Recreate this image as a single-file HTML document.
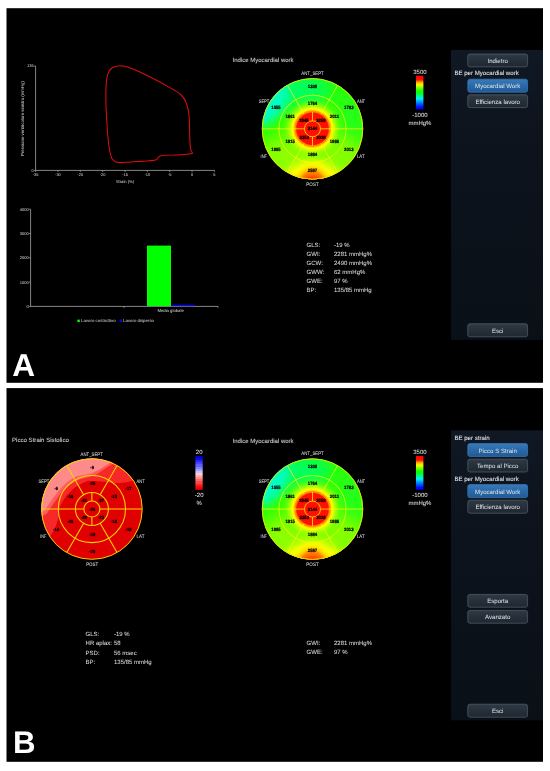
<!DOCTYPE html>
<html lang="it"><head><meta charset="utf-8"><title>Myocardial work</title>
<style>html,body{margin:0;padding:0;background:#fff}body{width:550px;height:771px;overflow:hidden}svg{display:block}text{font-family:"Liberation Sans", sans-serif;text-rendering:geometricPrecision}</style>
</head><body>
<svg width="550" height="771" viewBox="0 0 550 771">
<defs>
<linearGradient id="btn" x1="0" y1="0" x2="0" y2="1"><stop offset="0" stop-color="#2f3a46"/><stop offset="0.5" stop-color="#26303a"/><stop offset="1" stop-color="#1f2831"/></linearGradient>
<linearGradient id="btnb" x1="0" y1="0" x2="0" y2="1"><stop offset="0" stop-color="#3a7ab9"/><stop offset="0.5" stop-color="#2a69a9"/><stop offset="1" stop-color="#205a94"/></linearGradient>
<linearGradient id="rainbow" x1="0" y1="0" x2="0" y2="1"><stop offset="0" stop-color="#ff0000"/><stop offset="0.12" stop-color="#ff1000"/><stop offset="0.2" stop-color="#ffb000"/><stop offset="0.27" stop-color="#f0ff00"/><stop offset="0.45" stop-color="#10ff00"/><stop offset="0.55" stop-color="#00ff40"/><stop offset="0.68" stop-color="#00f0ff"/><stop offset="0.8" stop-color="#0080ff"/><stop offset="0.93" stop-color="#0010ff"/><stop offset="1" stop-color="#0000e0"/></linearGradient>
<radialGradient id="core" cx="0" cy="0" r="34" gradientUnits="userSpaceOnUse"><stop offset="0" stop-color="#ff1000"/><stop offset="0.458" stop-color="#ff1000"/><stop offset="0.495" stop-color="#ff4800"/><stop offset="0.525" stop-color="#ff9800"/><stop offset="0.56" stop-color="#ffec00"/><stop offset="0.6" stop-color="#f6ff00"/><stop offset="0.68" stop-color="#c0ff00" stop-opacity="0.78"/><stop offset="0.81" stop-color="#80ff00" stop-opacity="0.36"/><stop offset="1" stop-color="#50ff00" stop-opacity="0"/></radialGradient>
<filter id="b3" x="-50%" y="-50%" width="200%" height="200%"><feGaussianBlur stdDeviation="3"/></filter>
<filter id="b5" x="-50%" y="-50%" width="200%" height="200%"><feGaussianBlur stdDeviation="5"/></filter>
<filter id="b8" x="-50%" y="-50%" width="200%" height="200%"><feGaussianBlur stdDeviation="8"/></filter>
<filter id="b2" x="-50%" y="-50%" width="200%" height="200%"><feGaussianBlur stdDeviation="2"/></filter>
<filter id="b1" x="-50%" y="-50%" width="200%" height="200%"><feGaussianBlur stdDeviation="1.2"/></filter>
<linearGradient id="side" x1="0" y1="0" x2="0" y2="1"><stop offset="0" stop-color="#101824"/><stop offset="0.35" stop-color="#0c131c"/><stop offset="1" stop-color="#0a1018"/></linearGradient>
<clipPath id="disc"><circle cx="0" cy="0" r="50.6"/></clipPath>
</defs>
<rect width="550" height="771" fill="#ffffff"/>
<rect x="6.5" y="8.2" width="536.5" height="374.6" fill="#000"/>
<rect x="6.5" y="388.1" width="536.5" height="373.7" fill="#000"/>
<!-- Panel A -->
<g stroke="#cccccc" stroke-width="0.65" fill="none"><path d="M35.6 66V170.4H214.4"/>
<path d="M34.2 66H35.6M34.2 170.4H35.6"/>
<path d="M35.60 170.4V171.8"/>
<path d="M57.95 170.4V171.8"/>
<path d="M80.30 170.4V171.8"/>
<path d="M102.65 170.4V171.8"/>
<path d="M125.00 170.4V171.8"/>
<path d="M147.35 170.4V171.8"/>
<path d="M169.70 170.4V171.8"/>
<path d="M192.05 170.4V171.8"/>
<path d="M214.40 170.4V171.8"/>
</g>
<g font-size="4" fill="#dcdcdc" text-anchor="middle">
<text x="35.60" y="175.9">-35</text>
<text x="57.95" y="175.9">-30</text>
<text x="80.30" y="175.9">-25</text>
<text x="102.65" y="175.9">-20</text>
<text x="125.00" y="175.9">-15</text>
<text x="147.35" y="175.9">-10</text>
<text x="169.70" y="175.9">-5</text>
<text x="192.05" y="175.9">0</text>
<text x="214.40" y="175.9">5</text>
<text x="125" y="182.5" font-size="4.1">Strain (%)</text>
</g>
<text x="33.8" y="67.4" font-size="4" fill="#dcdcdc" text-anchor="end">135</text>
<text x="33.8" y="171.8" font-size="4" fill="#dcdcdc" text-anchor="end">0</text>
<text transform="translate(24 118.5) rotate(-90)" font-size="4.3" fill="#dcdcdc" text-anchor="middle" textLength="75" lengthAdjust="spacingAndGlyphs">Pressione ventricolare sinistra (mmHg)</text>
<path id="pvloop" d="M118.6 65.9C122 65.6 128 66.6 137.6 71.1C146 74.8 162 83.2 170.7 88.1C176 91 178.5 92.5 180.1 94C183.5 97 185 99.5 186 102.3C187.8 107 188.5 110 188.9 114.1C189.5 120 189.5 125 189.6 130.7C189.8 138 189.9 143 190.3 147.2C190.6 150.5 191.8 151.8 192.6 153.2C191 153.8 189 154 187.2 154.2C182 154.7 178 154.8 173 155C169 155 165.5 155 162.4 155.5C160.5 155.8 159.2 156.2 158.4 157.1C157.6 158 157.8 159 156.9 159.5C155 160.4 152 160.5 149.4 160.7C143 161.2 137 161.5 130.5 161.9C126 162.2 122 162.8 118.6 162.6C116.5 162.5 115 162 113.9 160.9C112.5 159.6 111.6 158.5 111.1 156.7C110 153 109.2 149 108.7 144.8C107.8 137 107.2 129 106.8 121.2C106.4 115 106 108.5 105.9 102.3C105.8 98 105.8 94.5 105.9 90.5C106 86.5 106.2 82 106.8 78.6C107.3 75.6 108 73 109.2 71.1C110.2 69.5 111.2 68.4 112.7 67.5C114.5 66.5 116.5 66 118.6 65.9Z" fill="none" stroke="#de0c0c" stroke-width="1.05"/>
<g stroke="#cccccc" stroke-width="0.65" fill="none"><path d="M30.6 209.2V306.4H218"/>
<path d="M29.2 306.40H30.6"/>
<path d="M29.2 282.10H30.6"/>
<path d="M29.2 257.80H30.6"/>
<path d="M29.2 233.50H30.6"/>
<path d="M29.2 209.20H30.6"/>
<path d="M124 306.4V307.8M218 306.4V307.8"/></g>
<g font-size="4.1" fill="#dcdcdc" text-anchor="end">
<text x="28.8" y="307.85">0</text>
<text x="28.8" y="283.55">1000</text>
<text x="28.8" y="259.25">2000</text>
<text x="28.8" y="234.95">3000</text>
<text x="28.8" y="210.65">4000</text>
</g>
<rect x="147" y="245.6" width="24" height="60.5" fill="#00ff00"/>
<rect x="171" y="304.8" width="23.6" height="1.4" fill="#0000ff"/>
<text x="170.6" y="312.1" font-size="4.3" fill="#dcdcdc" text-anchor="middle" textLength="26.4" lengthAdjust="spacingAndGlyphs">Media globale</text>
<rect x="77.4" y="319.6" width="2.4" height="2.4" fill="#00ff00"/>
<text x="81" y="322.3" font-size="4.3" fill="#dcdcdc" textLength="34.6" lengthAdjust="spacingAndGlyphs">Lavoro costruttivo</text>
<rect x="119.6" y="319.6" width="2.4" height="2.4" fill="#0000ff"/>
<text x="123" y="322.3" font-size="4.3" fill="#dcdcdc" textLength="31" lengthAdjust="spacingAndGlyphs">Lavoro disperso</text>
<text x="232.6" y="62.16" font-size="6" fill="#d2d2d2" stroke="#d2d2d2" stroke-width="0.07" text-anchor="start">Indice Myocardial work</text>
<g transform="translate(312.5 128.8)"><g clip-path="url(#disc)"><circle r="51" fill="#2cff00"/><ellipse cx="-16" cy="-38" rx="36" ry="16" fill="#00ff60" filter="url(#b8)"/><ellipse cx="-42" cy="-26" rx="14" ry="26" fill="#00ffc4" filter="url(#b5)" transform="rotate(34 -42 -26)"/><ellipse cx="38" cy="-10" rx="14" ry="30" fill="#20ff20" filter="url(#b8)" opacity="0.8"/><ellipse cx="-24" cy="28" rx="30" ry="22" fill="#8cff00" filter="url(#b8)"/><ellipse cx="26" cy="28" rx="28" ry="22" fill="#84ff00" filter="url(#b8)"/><path d="M0 27 C19.6 27 33.6 50 56 60H-56C-33.6 50 -19.6 27 0 27Z" fill="#c4ff00" filter="url(#b3)"/><path d="M0 33 C16.1 33 27.6 50 46 60H-46C-27.6 50 -16.1 33 0 33Z" fill="#fdff00" filter="url(#b2)"/><path d="M0 38 C9.8 38 16.8 50 28 60H-28C-16.8 50 -9.8 38 0 38Z" fill="#ffc400" filter="url(#b2)"/><path d="M0 41 C7.35 41 12.6 50 21 60H-21C-12.6 50 -7.35 41 0 41Z" fill="#ff8400" filter="url(#b1)"/><ellipse cx="0" cy="53" rx="10" ry="5.5" fill="#ff2000" filter="url(#b2)"/><circle r="34" fill="url(#core)"/></g><g fill="none" stroke="#fbff00" stroke-width="0.75"><circle cx="0" cy="0" r="33.6"/><circle cx="0" cy="0" r="17" stroke-opacity="0.45"/><circle cx="0" cy="0" r="8"/><path d="M-50 0H-8M8 0H50"/><path d="M0 -17V-8M0 8V17"/><path d="M8.50 -14.72L25.00 -43.30"/><path d="M-8.50 -14.72L-25.00 -43.30"/><path d="M-8.50 14.72L-25.00 43.30"/><path d="M8.50 14.72L25.00 43.30"/></g><circle cx="0" cy="0" r="50.3" fill="none" stroke="#f4dc00" stroke-width="0.9"/><g font-size="4.7" font-weight="bold" fill="#000" stroke="#000" stroke-width="0.22" text-anchor="middle"><text transform="translate(0 -40.608) scale(0.9 1)">1338</text><text transform="translate(0 -24.008) scale(0.9 1)">1764</text><text transform="translate(-36.5 -19.708) scale(0.9 1)">1055</text><text transform="translate(36.3 -19.708) scale(0.9 1)">1783</text><text transform="translate(-22.3 -11.208) scale(0.9 1)">1861</text><text transform="translate(21.9 -11.208) scale(0.9 1)">2011</text><text transform="translate(-8.6 -7.208) scale(0.9 1)">2945</text><text transform="translate(8.4 -7.208) scale(0.9 1)">3259</text><text transform="translate(0 1.492) scale(0.9 1)">3144</text><text transform="translate(-8.2 9.992) scale(0.9 1)">3353</text><text transform="translate(8.4 9.992) scale(0.9 1)">3028</text><text transform="translate(-22.3 14.092) scale(0.9 1)">1915</text><text transform="translate(21.9 14.092) scale(0.9 1)">1986</text><text transform="translate(-36.5 22.292) scale(0.9 1)">1995</text><text transform="translate(36.3 22.292) scale(0.9 1)">2013</text><text transform="translate(0 26.792) scale(0.9 1)">1884</text><text transform="translate(0 43.092) scale(0.9 1)">2597</text></g><text x="0" y="-53.8" font-size="5" fill="#e6e6e6" text-anchor="middle" textLength="22.4" lengthAdjust="spacingAndGlyphs">ANT_SEPT</text><text x="-43.2" y="-26" font-size="5" fill="#e6e6e6" text-anchor="end" textLength="10.6" lengthAdjust="spacingAndGlyphs">SEPT</text><text x="44.4" y="-26" font-size="5" fill="#e6e6e6" text-anchor="start" textLength="8.2" lengthAdjust="spacingAndGlyphs">ANT</text><text x="-45.5" y="29.4" font-size="5" fill="#e6e6e6" text-anchor="end" textLength="6.4" lengthAdjust="spacingAndGlyphs">INF</text><text x="44.4" y="29.4" font-size="5" fill="#e6e6e6" text-anchor="start" textLength="7.8" lengthAdjust="spacingAndGlyphs">LAT</text><text x="0" y="56.8" font-size="5" fill="#e6e6e6" text-anchor="middle" textLength="12.3" lengthAdjust="spacingAndGlyphs">POST</text></g>
<rect x="416" y="75.7" width="7.4" height="33.8" fill="url(#rainbow)"/><text x="419.9" y="73.86" font-size="6" fill="#d8d8d8" stroke="#d8d8d8" stroke-width="0.07" text-anchor="middle">3500</text><text x="419.9" y="116.56" font-size="6" fill="#d8d8d8" stroke="#d8d8d8" stroke-width="0.07" text-anchor="middle">-1000</text><text x="419.9" y="124.76" font-size="6" fill="#d8d8d8" stroke="#d8d8d8" stroke-width="0.07" text-anchor="middle">mmHg%</text>
<text x="306.6" y="246.56" font-size="6" fill="#d2d2d2" stroke="#d2d2d2" stroke-width="0.07" text-anchor="start">GLS:</text>
<text x="334" y="246.56" font-size="6" fill="#d2d2d2" stroke="#d2d2d2" stroke-width="0.07" text-anchor="start">-19 %</text>
<text x="306.6" y="255.68" font-size="6" fill="#d2d2d2" stroke="#d2d2d2" stroke-width="0.07" text-anchor="start">GWI:</text>
<text x="334" y="255.68" font-size="6" fill="#d2d2d2" stroke="#d2d2d2" stroke-width="0.07" text-anchor="start">2281 mmHg%</text>
<text x="306.6" y="264.8" font-size="6" fill="#d2d2d2" stroke="#d2d2d2" stroke-width="0.07" text-anchor="start">GCW:</text>
<text x="334" y="264.8" font-size="6" fill="#d2d2d2" stroke="#d2d2d2" stroke-width="0.07" text-anchor="start">2490 mmHg%</text>
<text x="306.6" y="273.92" font-size="6" fill="#d2d2d2" stroke="#d2d2d2" stroke-width="0.07" text-anchor="start">GWW:</text>
<text x="334" y="273.92" font-size="6" fill="#d2d2d2" stroke="#d2d2d2" stroke-width="0.07" text-anchor="start">62 mmHg%</text>
<text x="306.6" y="283.04" font-size="6" fill="#d2d2d2" stroke="#d2d2d2" stroke-width="0.07" text-anchor="start">GWE:</text>
<text x="334" y="283.04" font-size="6" fill="#d2d2d2" stroke="#d2d2d2" stroke-width="0.07" text-anchor="start">97 %</text>
<text x="306.6" y="292.16" font-size="6" fill="#d2d2d2" stroke="#d2d2d2" stroke-width="0.07" text-anchor="start">BP:</text>
<text x="334" y="292.16" font-size="6" fill="#d2d2d2" stroke="#d2d2d2" stroke-width="0.07" text-anchor="start">135/85 mmHg</text>
<rect x="451" y="49.9" width="92" height="290" fill="url(#side)"/>
<rect x="467.8" y="54" width="59.8" height="12.8" rx="2.2" ry="2.2" fill="url(#btn)" stroke="#525e6a" stroke-width="0.75"/><text x="497.7" y="62.996" font-size="6.1" fill="#dfe5ea" text-anchor="middle">Indietro</text>
<text x="454.4" y="75.196" font-size="6.1" fill="#dfe3e6" stroke="#dfe3e6" stroke-width="0.07" text-anchor="start">BE per Myocardial work</text>
<rect x="467.8" y="79.2" width="59.8" height="13" rx="2.2" ry="2.2" fill="url(#btnb)" stroke="#3b78b4" stroke-width="0.75"/><text x="497.7" y="88.296" font-size="6.1" fill="#dfe5ea" text-anchor="middle">Myocardial Work</text>
<rect x="467.8" y="94.8" width="59.8" height="12.8" rx="2.2" ry="2.2" fill="url(#btn)" stroke="#525e6a" stroke-width="0.75"/><text x="497.7" y="103.796" font-size="6.1" fill="#dfe5ea" text-anchor="middle">Efficienza lavoro</text>
<rect x="467.8" y="323.8" width="59.8" height="13" rx="2.2" ry="2.2" fill="url(#btn)" stroke="#525e6a" stroke-width="0.75"/><text x="497.7" y="332.896" font-size="6.1" fill="#dfe5ea" text-anchor="middle">Esci</text>
<text x="12.3" y="375.6" font-size="31.6" font-weight="bold" fill="#fff">A</text>
<!-- Panel B -->
<text x="12" y="442.296" font-size="6.1" fill="#d2d2d2" stroke="#d2d2d2" stroke-width="0.07" text-anchor="start">Picco Strain Sistolico</text>
<g transform="translate(91.9 509)"><g clip-path="url(#disc)"><circle r="51" fill="#e00000"/><polygon points="-61.7,36.2 -47.7,29.2 -41.7,27.2 -36.7,19.2 -33.2,7.2 -33.5,0.7 -30.3,-5.8 -25.3,-13.5 -17.7,-21.1 -10.1,-25.6 -3.7,-28.2 6.5,-27.8 16.7,-26.8 26.8,-25.8 35.0,-26.8 42.1,-28.8 46.3,-30.4 58.3,-32.8 58.3,-68.8 -61.7,-68.8" fill="#f62828"/><polygon points="-61.7,11.2 -49.7,7.2 -44.7,4.2 -41.5,-0.9 -36.4,-8.0 -31.3,-15.2 -24.2,-22.3 -18.1,-26.9 -11.0,-29.9 -2.8,-32.0 4.3,-34.5 8.6,-37.2 15.1,-41.8 20.6,-45.1 28.3,-50.8 28.3,-68.8 -61.7,-68.8" fill="#ff5c5c"/><polygon points="-61.7,3.2 -50.7,2.7 -47.2,1.7 -45.6,-0.9 -39.5,-10.1 -32.4,-19.2 -25.2,-26.4 -17.1,-32.0 -8.9,-34.0 -0.8,-35.5 4.3,-38.1 6.4,-38.7 12.9,-42.9 18.4,-46.2 24.3,-50.8 24.3,-68.8 -61.7,-68.8" fill="#ff8a8a"/><polygon points="-51.7,-13.8 -48.2,-16.8 -45.7,-22.8 -42.2,-28.3 -39.7,-31.3 -43.7,-32.8 -51.7,-23.8" fill="#ffa4a4"/></g><g fill="none" stroke="#ffd400" stroke-width="1.05"><circle cx="0" cy="0" r="33.6"/><circle cx="0" cy="0" r="16.5"/><circle cx="0" cy="0" r="8"/><path d="M-50 0H-8M8 0H50"/><path d="M0 -16.5V-8M0 8V16.5"/><path d="M8.25 -14.29L25.00 -43.30"/><path d="M-8.25 -14.29L-25.00 -43.30"/><path d="M-8.25 14.29L-25.00 43.30"/><path d="M8.25 14.29L25.00 43.30"/></g><circle cx="0" cy="0" r="50.3" fill="none" stroke="#ece400" stroke-width="0.9"/><g font-size="4.5" font-weight="bold" fill="#000" stroke="#000" stroke-width="0.22" text-anchor="middle"><text transform="translate(0.2 -40.28) scale(0.9 1)">-9</text><text transform="translate(-35.7 -19.28) scale(0.9 1)">-9</text><text transform="translate(36.6 -19.28) scale(0.9 1)">-17</text><text transform="translate(0.5 -23.78) scale(0.9 1)">-15</text><text transform="translate(-21.5 -10.98) scale(0.9 1)">-18</text><text transform="translate(22.2 -10.98) scale(0.9 1)">-18</text><text transform="translate(-7.8 -6.98) scale(0.9 1)">-21</text><text transform="translate(9.2 -6.98) scale(0.9 1)">-27</text><text transform="translate(0.5 1.82) scale(0.9 1)">-26</text><text transform="translate(-7.8 10.32) scale(0.9 1)">-28</text><text transform="translate(9.2 10.32) scale(0.9 1)">-23</text><text transform="translate(-21.5 14.32) scale(0.9 1)">-20</text><text transform="translate(22.2 14.32) scale(0.9 1)">-18</text><text transform="translate(-35.7 22.32) scale(0.9 1)">-16</text><text transform="translate(36.6 22.32) scale(0.9 1)">-18</text><text transform="translate(0.5 26.82) scale(0.9 1)">-18</text><text transform="translate(0.5 43.62) scale(0.9 1)">-20</text></g><text x="-0.2" y="-53.5" font-size="5" fill="#e6e6e6" text-anchor="middle" textLength="22.2" lengthAdjust="spacingAndGlyphs">ANT_SEPT</text><text x="-42.8" y="-26" font-size="5" fill="#e6e6e6" text-anchor="end" textLength="10.6" lengthAdjust="spacingAndGlyphs">SEPT</text><text x="44.7" y="-26" font-size="5" fill="#e6e6e6" text-anchor="start" textLength="8.2" lengthAdjust="spacingAndGlyphs">ANT</text><text x="-45.6" y="29.3" font-size="5" fill="#e6e6e6" text-anchor="end" textLength="6.2" lengthAdjust="spacingAndGlyphs">INF</text><text x="44.7" y="29.3" font-size="5" fill="#e6e6e6" text-anchor="start" textLength="7.8" lengthAdjust="spacingAndGlyphs">LAT</text><text x="0.3" y="57.2" font-size="5" fill="#e6e6e6" text-anchor="middle" textLength="12.1" lengthAdjust="spacingAndGlyphs">POST</text></g>
<linearGradient id="bwr" x1="0" y1="0" x2="0" y2="1"><stop offset="0.0000" stop-color="#0000d8"/><stop offset="0.0625" stop-color="#0000d8"/><stop offset="0.0625" stop-color="#0c0ce8"/><stop offset="0.1250" stop-color="#0c0ce8"/><stop offset="0.1250" stop-color="#2828f4"/><stop offset="0.1875" stop-color="#2828f4"/><stop offset="0.1875" stop-color="#4444ff"/><stop offset="0.2500" stop-color="#4444ff"/><stop offset="0.2500" stop-color="#6060ff"/><stop offset="0.3125" stop-color="#6060ff"/><stop offset="0.3125" stop-color="#8080ff"/><stop offset="0.3750" stop-color="#8080ff"/><stop offset="0.3750" stop-color="#a0a0ff"/><stop offset="0.4375" stop-color="#a0a0ff"/><stop offset="0.4375" stop-color="#c4c4ff"/><stop offset="0.5000" stop-color="#c4c4ff"/><stop offset="0.5000" stop-color="#ffd0c8"/><stop offset="0.5625" stop-color="#ffd0c8"/><stop offset="0.5625" stop-color="#ffb0a8"/><stop offset="0.6250" stop-color="#ffb0a8"/><stop offset="0.6250" stop-color="#ff9088"/><stop offset="0.6875" stop-color="#ff9088"/><stop offset="0.6875" stop-color="#ff6c68"/><stop offset="0.7500" stop-color="#ff6c68"/><stop offset="0.7500" stop-color="#ff4848"/><stop offset="0.8125" stop-color="#ff4848"/><stop offset="0.8125" stop-color="#ff2424"/><stop offset="0.8750" stop-color="#ff2424"/><stop offset="0.8750" stop-color="#f80808"/><stop offset="0.9375" stop-color="#f80808"/><stop offset="0.9375" stop-color="#e60000"/><stop offset="1.0000" stop-color="#e60000"/></linearGradient>
<rect x="195.4" y="456" width="7.3" height="33.9" fill="url(#bwr)"/>
<text x="199.2" y="453.86" font-size="6" fill="#d8d8d8" stroke="#d8d8d8" stroke-width="0.07" text-anchor="middle">20</text>
<text x="199.2" y="496.96" font-size="6" fill="#d8d8d8" stroke="#d8d8d8" stroke-width="0.07" text-anchor="middle">-20</text>
<text x="199.2" y="504.96" font-size="6" fill="#d8d8d8" stroke="#d8d8d8" stroke-width="0.07" text-anchor="middle">%</text>
<text x="85.6" y="636.16" font-size="6" fill="#d2d2d2" stroke="#d2d2d2" stroke-width="0.07" text-anchor="start">GLS:</text>
<text x="114" y="636.16" font-size="6" fill="#d2d2d2" stroke="#d2d2d2" stroke-width="0.07" text-anchor="start">-19 %</text>
<text x="85.6" y="645.36" font-size="6" fill="#d2d2d2" stroke="#d2d2d2" stroke-width="0.07" text-anchor="start">HR aplax:</text>
<text x="114" y="645.36" font-size="6" fill="#d2d2d2" stroke="#d2d2d2" stroke-width="0.07" text-anchor="start">58</text>
<text x="85.6" y="654.56" font-size="6" fill="#d2d2d2" stroke="#d2d2d2" stroke-width="0.07" text-anchor="start">PSD:</text>
<text x="114" y="654.56" font-size="6" fill="#d2d2d2" stroke="#d2d2d2" stroke-width="0.07" text-anchor="start">56 msec</text>
<text x="85.6" y="663.76" font-size="6" fill="#d2d2d2" stroke="#d2d2d2" stroke-width="0.07" text-anchor="start">BP:</text>
<text x="114" y="663.76" font-size="6" fill="#d2d2d2" stroke="#d2d2d2" stroke-width="0.07" text-anchor="start">135/85 mmHg</text>
<text x="232.6" y="442.56" font-size="6" fill="#d2d2d2" stroke="#d2d2d2" stroke-width="0.07" text-anchor="start">Indice Myocardial work</text>
<g transform="translate(312.5 509.1)"><g clip-path="url(#disc)"><circle r="51" fill="#2cff00"/><ellipse cx="-16" cy="-38" rx="36" ry="16" fill="#00ff60" filter="url(#b8)"/><ellipse cx="-42" cy="-26" rx="14" ry="26" fill="#00ffc4" filter="url(#b5)" transform="rotate(34 -42 -26)"/><ellipse cx="38" cy="-10" rx="14" ry="30" fill="#20ff20" filter="url(#b8)" opacity="0.8"/><ellipse cx="-24" cy="28" rx="30" ry="22" fill="#8cff00" filter="url(#b8)"/><ellipse cx="26" cy="28" rx="28" ry="22" fill="#84ff00" filter="url(#b8)"/><path d="M0 27 C19.6 27 33.6 50 56 60H-56C-33.6 50 -19.6 27 0 27Z" fill="#c4ff00" filter="url(#b3)"/><path d="M0 33 C16.1 33 27.6 50 46 60H-46C-27.6 50 -16.1 33 0 33Z" fill="#fdff00" filter="url(#b2)"/><path d="M0 38 C9.8 38 16.8 50 28 60H-28C-16.8 50 -9.8 38 0 38Z" fill="#ffc400" filter="url(#b2)"/><path d="M0 41 C7.35 41 12.6 50 21 60H-21C-12.6 50 -7.35 41 0 41Z" fill="#ff8400" filter="url(#b1)"/><ellipse cx="0" cy="53" rx="10" ry="5.5" fill="#ff2000" filter="url(#b2)"/><circle r="34" fill="url(#core)"/></g><g fill="none" stroke="#fbff00" stroke-width="0.75"><circle cx="0" cy="0" r="33.6"/><circle cx="0" cy="0" r="17" stroke-opacity="0.45"/><circle cx="0" cy="0" r="8"/><path d="M-50 0H-8M8 0H50"/><path d="M0 -17V-8M0 8V17"/><path d="M8.50 -14.72L25.00 -43.30"/><path d="M-8.50 -14.72L-25.00 -43.30"/><path d="M-8.50 14.72L-25.00 43.30"/><path d="M8.50 14.72L25.00 43.30"/></g><circle cx="0" cy="0" r="50.3" fill="none" stroke="#f4dc00" stroke-width="0.9"/><g font-size="4.7" font-weight="bold" fill="#000" stroke="#000" stroke-width="0.22" text-anchor="middle"><text transform="translate(0 -40.608) scale(0.9 1)">1338</text><text transform="translate(0 -24.008) scale(0.9 1)">1764</text><text transform="translate(-36.5 -19.708) scale(0.9 1)">1055</text><text transform="translate(36.3 -19.708) scale(0.9 1)">1783</text><text transform="translate(-22.3 -11.208) scale(0.9 1)">1861</text><text transform="translate(21.9 -11.208) scale(0.9 1)">2011</text><text transform="translate(-8.6 -7.208) scale(0.9 1)">2945</text><text transform="translate(8.4 -7.208) scale(0.9 1)">3259</text><text transform="translate(0 1.492) scale(0.9 1)">3144</text><text transform="translate(-8.2 9.992) scale(0.9 1)">3353</text><text transform="translate(8.4 9.992) scale(0.9 1)">3028</text><text transform="translate(-22.3 14.092) scale(0.9 1)">1915</text><text transform="translate(21.9 14.092) scale(0.9 1)">1986</text><text transform="translate(-36.5 22.292) scale(0.9 1)">1995</text><text transform="translate(36.3 22.292) scale(0.9 1)">2013</text><text transform="translate(0 26.792) scale(0.9 1)">1884</text><text transform="translate(0 43.092) scale(0.9 1)">2597</text></g><text x="0" y="-53.8" font-size="5" fill="#e6e6e6" text-anchor="middle" textLength="22.4" lengthAdjust="spacingAndGlyphs">ANT_SEPT</text><text x="-43.2" y="-26" font-size="5" fill="#e6e6e6" text-anchor="end" textLength="10.6" lengthAdjust="spacingAndGlyphs">SEPT</text><text x="44.4" y="-26" font-size="5" fill="#e6e6e6" text-anchor="start" textLength="8.2" lengthAdjust="spacingAndGlyphs">ANT</text><text x="-45.5" y="29.4" font-size="5" fill="#e6e6e6" text-anchor="end" textLength="6.4" lengthAdjust="spacingAndGlyphs">INF</text><text x="44.4" y="29.4" font-size="5" fill="#e6e6e6" text-anchor="start" textLength="7.8" lengthAdjust="spacingAndGlyphs">LAT</text><text x="0" y="56.8" font-size="5" fill="#e6e6e6" text-anchor="middle" textLength="12.3" lengthAdjust="spacingAndGlyphs">POST</text></g>
<rect x="416" y="456" width="7.4" height="33.8" fill="url(#rainbow)"/><text x="419.9" y="454.16" font-size="6" fill="#d8d8d8" stroke="#d8d8d8" stroke-width="0.07" text-anchor="middle">3500</text><text x="419.9" y="496.86" font-size="6" fill="#d8d8d8" stroke="#d8d8d8" stroke-width="0.07" text-anchor="middle">-1000</text><text x="419.9" y="505.06" font-size="6" fill="#d8d8d8" stroke="#d8d8d8" stroke-width="0.07" text-anchor="middle">mmHg%</text>
<text x="306.6" y="645.16" font-size="6" fill="#d2d2d2" stroke="#d2d2d2" stroke-width="0.07" text-anchor="start">GWI:</text>
<text x="334" y="645.16" font-size="6" fill="#d2d2d2" stroke="#d2d2d2" stroke-width="0.07" text-anchor="start">2281 mmHg%</text>
<text x="306.6" y="654.26" font-size="6" fill="#d2d2d2" stroke="#d2d2d2" stroke-width="0.07" text-anchor="start">GWE:</text>
<text x="334" y="654.26" font-size="6" fill="#d2d2d2" stroke="#d2d2d2" stroke-width="0.07" text-anchor="start">97 %</text>
<rect x="451" y="430.3" width="92" height="290" fill="url(#side)"/>
<text x="454.4" y="439.796" font-size="6.1" fill="#dfe3e6" stroke="#dfe3e6" stroke-width="0.07" text-anchor="start">BE per strain</text>
<rect x="467.8" y="443.6" width="59.8" height="12.8" rx="2.2" ry="2.2" fill="url(#btnb)" stroke="#3b78b4" stroke-width="0.75"/><text x="497.7" y="452.596" font-size="6.1" fill="#dfe5ea" text-anchor="middle">Picco S Strain</text>
<rect x="467.8" y="459.2" width="59.8" height="12.8" rx="2.2" ry="2.2" fill="url(#btn)" stroke="#525e6a" stroke-width="0.75"/><text x="497.7" y="468.196" font-size="6.1" fill="#dfe5ea" text-anchor="middle">Tempo al Picco</text>
<text x="454.4" y="480.796" font-size="6.1" fill="#dfe3e6" stroke="#dfe3e6" stroke-width="0.07" text-anchor="start">BE per Myocardial work</text>
<rect x="467.8" y="484.6" width="59.8" height="13" rx="2.2" ry="2.2" fill="url(#btnb)" stroke="#3b78b4" stroke-width="0.75"/><text x="497.7" y="493.696" font-size="6.1" fill="#dfe5ea" text-anchor="middle">Myocardial Work</text>
<rect x="467.8" y="500.2" width="59.8" height="13" rx="2.2" ry="2.2" fill="url(#btn)" stroke="#525e6a" stroke-width="0.75"/><text x="497.7" y="509.296" font-size="6.1" fill="#dfe5ea" text-anchor="middle">Efficienza lavoro</text>
<rect x="467.8" y="594.4" width="59.8" height="12.8" rx="2.2" ry="2.2" fill="url(#btn)" stroke="#525e6a" stroke-width="0.75"/><text x="497.7" y="603.396" font-size="6.1" fill="#dfe5ea" text-anchor="middle">Esporta</text>
<rect x="467.8" y="610.4" width="59.8" height="12.8" rx="2.2" ry="2.2" fill="url(#btn)" stroke="#525e6a" stroke-width="0.75"/><text x="497.7" y="619.396" font-size="6.1" fill="#dfe5ea" text-anchor="middle">Avanzato</text>
<rect x="467.8" y="704.2" width="59.8" height="13" rx="2.2" ry="2.2" fill="url(#btn)" stroke="#525e6a" stroke-width="0.75"/><text x="497.7" y="713.296" font-size="6.1" fill="#dfe5ea" text-anchor="middle">Esci</text>
<text x="12.9" y="752.5" font-size="31.2" font-weight="bold" fill="#fff">B</text>
</svg></body></html>
